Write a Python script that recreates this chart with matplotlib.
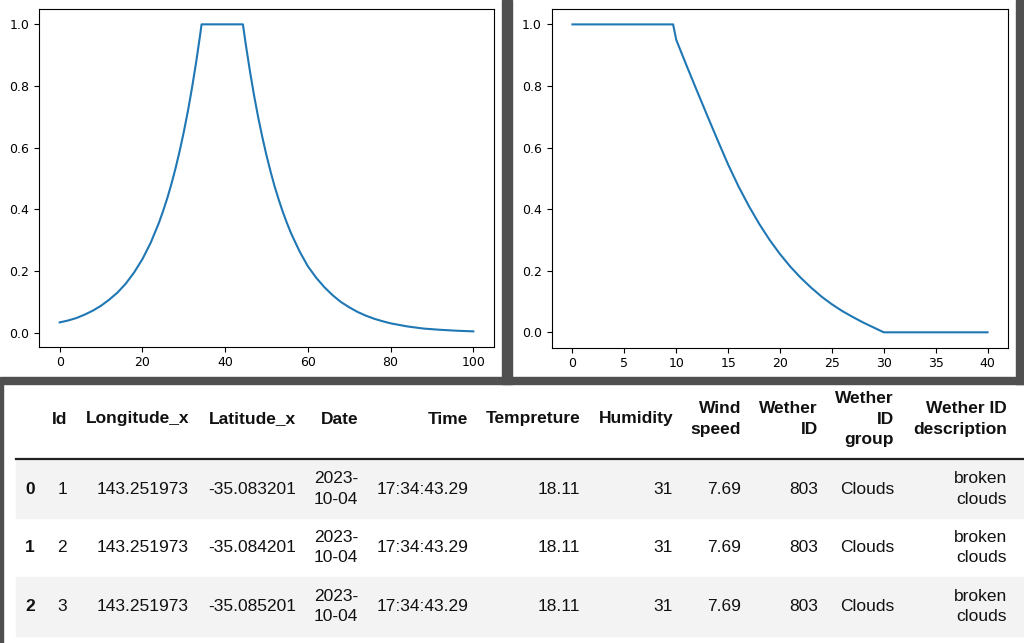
import matplotlib.pyplot as plt
from matplotlib.patches import Rectangle
from matplotlib.lines import Line2D

W, H = 1024, 643

# 左图：上升 - 平台 - 下降
left_x = [0, 2, 4, 6, 8, 10, 12, 14, 16, 18, 20, 22, 24, 25, 26, 27, 28, 29, 30, 31,
          32, 33, 34, 34.3,
          44.3, 45, 46, 47, 48, 49, 50, 51, 52, 53, 54, 55, 56, 58, 60, 62, 64, 66,
          68, 70, 72, 74, 76, 78, 80, 84, 88, 92, 96, 100]
left_y = [0.034, 0.040, 0.048, 0.059, 0.072, 0.088, 0.108, 0.131, 0.160, 0.196,
          0.239, 0.292, 0.357, 0.395, 0.436, 0.482, 0.533, 0.589, 0.651, 0.719,
          0.795, 0.878, 0.970, 1.0,
          1.0, 0.934, 0.848, 0.769, 0.698, 0.634, 0.575, 0.522, 0.473, 0.430,
          0.390, 0.354, 0.321, 0.264, 0.216, 0.179, 0.148, 0.122,
          0.100, 0.083, 0.068, 0.056, 0.046, 0.038, 0.031, 0.021, 0.014, 0.010,
          0.007, 0.005]

# 右图：平台 - 下降 - 零
right_x = [0, 9.7, 10, 11, 12, 13, 14, 15, 16, 17, 18, 19, 20, 21, 22, 23, 24, 25,
           26, 27, 28, 29, 30, 40]
right_y = [1.0, 1.0, 0.950, 0.866, 0.784, 0.703, 0.623, 0.545, 0.474, 0.410,
           0.352, 0.300, 0.254, 0.213, 0.177, 0.145, 0.116, 0.091, 0.069, 0.050,
           0.032, 0.016, 0.0, 0.0]

# 表格数据
columns = ['Id', 'Longitude_x', 'Latitude_x', 'Date', 'Time', 'Tempreture',
           'Humidity', 'Wind\nspeed', 'Wether\nID', 'Wether\nID\ngroup',
           'Wether ID\ndescription']
index = ['0', '1', '2']
rows = [
    ['1', '143.251973', '-35.083201', '2023-\n10-04', '17:34:43.29', '18.11',
     '31', '7.69', '803', 'Clouds', 'broken\nclouds'],
    ['2', '143.251973', '-35.084201', '2023-\n10-04', '17:34:43.29', '18.11',
     '31', '7.69', '803', 'Clouds', 'broken\nclouds'],
    ['3', '143.251973', '-35.085201', '2023-\n10-04', '17:34:43.29', '18.11',
     '31', '7.69', '803', 'Clouds', 'broken\nclouds'],
]

# 像素 -> 图坐标
def fx(x):
    return x / W


def fy(y):
    return 1 - y / H


fig = plt.figure(figsize=(W / 100, H / 100), dpi=100)

# 截图边框
border = '#505050'
for x0, y0, x1, y1 in [(502, 0, 512, 384), (0, 377, 1024, 384),
                       (1016, 0, 1024, 384), (0, 384, 3, 643)]:
    fig.patches.append(Rectangle((fx(x0), fy(y1)), fx(x1) - fx(x0), fy(y0) - fy(y1),
                                 transform=fig.transFigure, color=border, zorder=0))

ax1 = fig.add_axes([fx(39), fy(346.7), fx(494) - fx(39), fy(9) - fy(346.7)])
ax1.plot(left_x, left_y, color='#1f77b4', lw=1.5)
ax1.set_xticks([0, 20, 40, 60, 80, 100])
ax1.set_yticks([0.0, 0.2, 0.4, 0.6, 0.8, 1.0])
ax1.tick_params(labelsize=9)

ax2 = fig.add_axes([fx(551.7), fy(347.7), fx(1008.3) - fx(551.7), fy(9) - fy(347.7)])
ax2.plot(right_x, right_y, color='#1f77b4', lw=1.5)
ax2.set_xticks([0, 5, 10, 15, 20, 25, 30, 35, 40])
ax2.set_yticks([0.0, 0.2, 0.4, 0.6, 0.8, 1.0])
ax2.tick_params(labelsize=9)

# 表格
font = ['Liberation Sans', 'DejaVu Sans']
fs = 12.5
col_right = [67, 189, 296, 358, 468, 580, 673, 741, 818, 894, 1007]
header_y = 419
row_y = [489, 547.5, 606.5]
row_top = [460, 518, 577]
row_bot = [518, 577, 636]

for i in range(len(rows)):
    if i % 2 == 0:
        fig.patches.append(Rectangle((fx(16), fy(row_bot[i])), fx(1024) - fx(16),
                                     fy(row_top[i]) - fy(row_bot[i]),
                                     transform=fig.transFigure, color='#f3f3f3',
                                     zorder=0))

fig.add_artist(Line2D([fx(16), fx(1024)], [fy(459), fy(459)], color='#222222',
                      lw=1.6, transform=fig.transFigure))

for name, xr in zip(columns, col_right):
    fig.text(fx(xr), fy(header_y), name, ha='right', va='center',
             multialignment='right', fontsize=fs, fontweight='bold',
             family=font, color='#111111', linespacing=1.42)

for i, row in enumerate(rows):
    fig.text(fx(30), fy(row_y[i]), index[i], ha='center', va='center',
             fontsize=fs, fontweight='bold', family=font, color='#111111')
    for val, xr in zip(row, col_right):
        fig.text(fx(xr), fy(row_y[i]), val, ha='right', va='center',
                 multialignment='right', fontsize=fs, family=font,
                 color='#111111', linespacing=1.42)

plt.savefig('out.png', dpi=100)
